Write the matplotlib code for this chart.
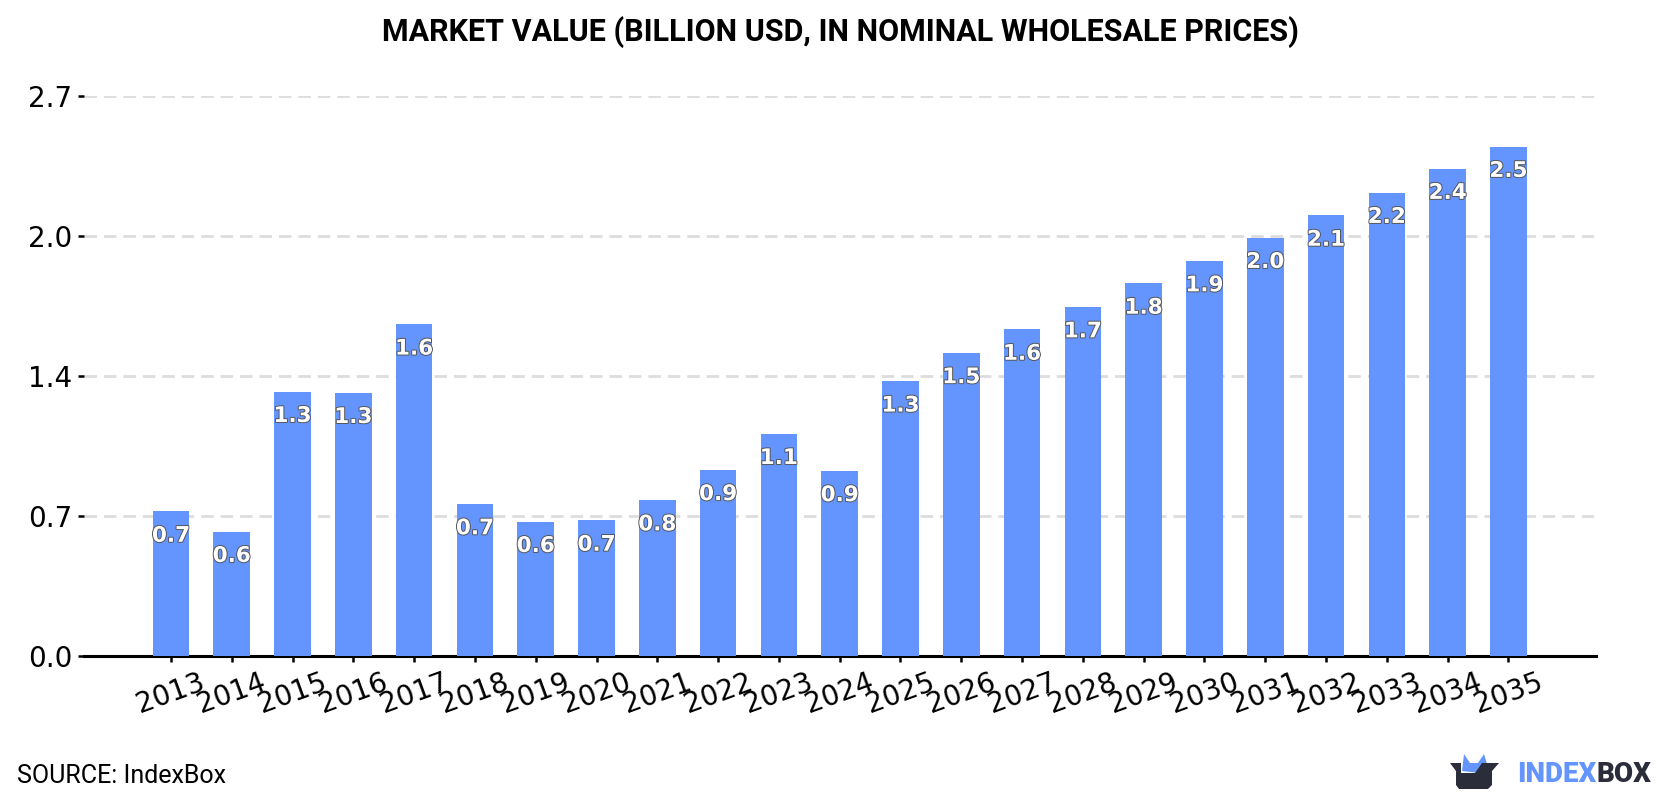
import matplotlib
matplotlib.use("Agg")
import matplotlib.pyplot as plt
import matplotlib.patheffects as pe
from matplotlib.patches import Polygon
import numpy as np

years = [2013, 2014, 2015, 2016, 2017, 2018, 2019, 2020, 2021, 2022, 2023, 2024,
         2025, 2026, 2027, 2028, 2029, 2030, 2031, 2032, 2033, 2034, 2035]
values = [0.697, 0.600, 1.275, 1.270, 1.600, 0.733, 0.648, 0.654, 0.752, 0.898, 1.072, 0.893,
          1.325, 1.462, 1.575, 1.683, 1.797, 1.905, 2.018, 2.125, 2.235, 2.351, 2.457]
ytick_vals = [0.0, 0.675, 1.35, 2.025, 2.7]
ytick_labels = ["0.0", "0.7", "1.4", "2.0", "2.7"]

W, H = 1680, 800
BLUE = "#6495ff"
DARK = "#2b2d3a"

fig = plt.figure(figsize=(W / 100, H / 100), dpi=100)
ax = fig.add_axes([84 / W, 1 - 656 / H, (1596 - 84) / W, (656 - 96.2) / H])

x = np.arange(len(years))
ax.bar(x, values, width=0.6, color=BLUE, zorder=3)

for xi, v in zip(x, values):
    ax.annotate(f"{v:.1f}", (xi, v), xytext=(0, -17.5), textcoords="offset points",
                ha="center", va="center", color="white", fontsize=15.5, fontweight="bold",
                family="DejaVu Sans", zorder=5,
                path_effects=[pe.withStroke(linewidth=1.4, foreground="#555555")])

ax.set_xlim(-1.43, 23.44)
ax.set_ylim(0, 2.7)
ax.set_yticks(ytick_vals)
ax.set_yticklabels(ytick_labels)
ax.set_xticks(x)
ax.set_xticklabels(years, rotation=20)
ax.tick_params(axis="both", labelsize=20, length=4.5, width=1.8, pad=4)
ax.yaxis.grid(True, linestyle=(0, (4.5, 2.5)), color="#dddddd", linewidth=2, zorder=0)
ax.set_axisbelow(True)
for side in ["top", "left", "right"]:
    ax.spines[side].set_visible(False)
ax.spines["bottom"].set_linewidth(2.2)

fig.text(840 / W, 1 - 32 / H, "MARKET VALUE (BILLION USD, IN NOMINAL WHOLESALE PRICES)",
         ha="center", va="center", fontsize=22, fontweight="bold", family="Roboto")
fig.text(17 / W, 1 - 776 / H, "SOURCE: IndexBox", ha="left", va="center",
         fontsize=18, family="Roboto")

# logo in the bottom right corner, in a pixel-based overlay
logo = fig.add_axes([0, 0, 1, 1], facecolor="none")
logo.set_xlim(0, W)
logo.set_ylim(H, 0)
logo.axis("off")
logo.add_patch(Polygon([(1462, 771), (1464, 754), (1470, 763), (1478, 763), (1484, 754),
                        (1487, 764), (1487, 763), (1479, 773)], color=BLUE, lw=0))
logo.add_patch(Polygon([(1450, 763), (1461, 763), (1461, 773), (1475, 773), (1482, 763),
                        (1499, 763), (1492, 771), (1492, 785), (1488, 789), (1459, 789),
                        (1456, 785), (1456, 771)], color=DARK, lw=0))
logo.text(1517, 774, "INDEX", color=BLUE, fontsize=20, fontweight="black",
          family="Roboto", ha="left", va="center")
logo.text(1597, 774, "BOX", color=DARK, fontsize=20, fontweight="black",
          family="Roboto", ha="left", va="center")

fig.savefig("out.png", dpi=100)
